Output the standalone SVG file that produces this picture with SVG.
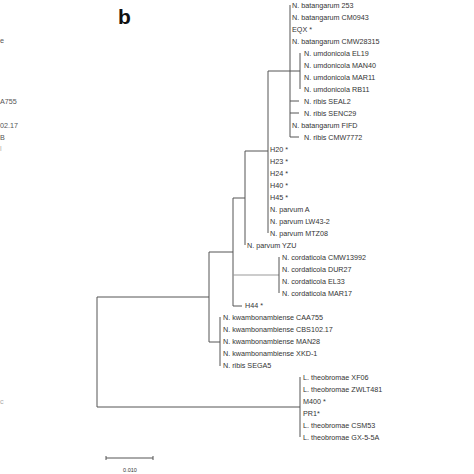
<svg xmlns="http://www.w3.org/2000/svg" width="474" height="474" viewBox="0 0 474 474">
<style>
text{font-family:"Liberation Sans",Arial,sans-serif;font-size:7.2px;fill:#333}
.br{stroke:#555;stroke-width:1;fill:none}
.lt{stroke:#999}
.frag{fill:#555}
</style>
<rect width="474" height="474" fill="#fff"/>
<text x="118" y="24" style="font-size:21px;font-weight:bold;fill:#111">b</text>
<g id="fragments">
<text class="frag" x="0" y="42.5">e</text>
<text class="frag" x="0" y="103.5">A755</text>
<text class="frag" x="0" y="127.5">02.17</text>
<text class="frag" x="0" y="139.5">B</text>
<text class="frag" x="0" y="151" style="fill:#aaa">l</text>
<text class="frag" x="0" y="404" style="fill:#aaa">c</text>
</g>
<g id="connectors">
<path class="br" d="M290,5V137M290,71H300M300,53V89M290,101H299M290,113H299M290,137H299"/>
<path class="br" d="M268,71H290M268,71V233M245,151H268M245,151V245M233,198H245M233,198V306M233,306H242"/>
<path class="br lt" d="M233,275H279"/>
<path class="br" d="M279,257V293"/>
<path class="br" d="M209,252H233M209,252V342M209,342H220M220,317V366M97,297H209M97,297V407M97,407H300M300,377V437"/>
<path class="br" d="M106,458H153M106,456V460M153,456V460"/>
</g>
<g id="leaves">
<text x="292" y="7.5">N. batangarum 253</text>
<text x="292" y="19.5">N. batangarum CM0943</text>
<text x="292" y="31.5">EQX *</text>
<text x="292" y="43.5">N. batangarum CMW28315</text>
<text x="304" y="55.5">N. umdonicola EL19</text>
<text x="304" y="67.5">N. umdonicola MAN40</text>
<text x="304" y="79.5">N. umdonicola MAR11</text>
<text x="304" y="91.5">N. umdonicola RB11</text>
<text x="304" y="103.5">N. ribis SEAL2</text>
<text x="304" y="115.5">N. ribis SENC29</text>
<text x="292" y="127.5">N. batangarum FIFD</text>
<text x="304" y="139.5">N. ribis CMW7772</text>
<text x="270" y="151.5">H20 *</text>
<text x="270" y="163.5">H23 *</text>
<text x="270" y="175.5">H24 *</text>
<text x="270" y="187.5">H40 *</text>
<text x="270" y="199.5">H45 *</text>
<text x="270" y="211.5">N. parvum A</text>
<text x="270" y="223.5">N. parvum LW43-2</text>
<text x="270" y="235.5">N. parvum MTZ08</text>
<text x="247" y="247.5">N. parvum YZU</text>
<text x="282" y="259.5">N. cordaticola CMW13992</text>
<text x="282" y="271.5">N. cordaticola DUR27</text>
<text x="282" y="283.5">N. cordaticola EL33</text>
<text x="282" y="295.5">N. cordaticola MAR17</text>
<text x="245" y="307.5">H44 *</text>
<text x="223" y="319.5">N. kwambonambiense CAA755</text>
<text x="223" y="331.5">N. kwambonambiense CBS102.17</text>
<text x="223" y="343.5">N. kwambonambiense MAN28</text>
<text x="223" y="355.5">N. kwambonambiense XKD-1</text>
<text x="223" y="367.5">N. ribis SEGA5</text>
<text x="303" y="379.5">L. theobromae XF06</text>
<text x="303" y="391.5">L. theobromae ZWLT481</text>
<text x="303" y="403.5">M400 *</text>
<text x="303" y="415.5">PR1*</text>
<text x="303" y="427.5">L. theobromae CSM53</text>
<text x="303" y="439.5">L. theobromae GX-5-5A</text>
</g>
<text x="130" y="472" text-anchor="middle" style="font-size:5.5px">0.010</text>
</svg>
